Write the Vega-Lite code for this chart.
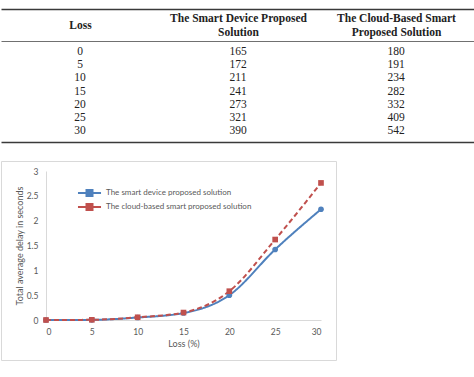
{
  "$schema": "https://vega.github.io/schema/vega-lite/v6.json",
  "padding": {"left": 0, "top": 9, "right": 0, "bottom": 0},
  "spacing": 18,
  "background": "white",
  "config": {"view": {"stroke": null}},
  "resolve": {"legend": {"color": "independent"}},
  "title": {"text": "Figure 11. The total average delay of", "orient": "bottom", "anchor": "start", "offset": 17, "font": "Liberation Serif", "fontSize": 11, "fontWeight": "bold", "color": "#000000", "baseline": "top"},
  "vconcat": [
    {
      "width": 474,
      "height": 101,
      "data": {"values": [
        {"Loss": 0, "smart": 165, "cloud": 180},
        {"Loss": 5, "smart": 172, "cloud": 191},
        {"Loss": 10, "smart": 211, "cloud": 234},
        {"Loss": 15, "smart": 241, "cloud": 282},
        {"Loss": 20, "smart": 273, "cloud": 332},
        {"Loss": 25, "smart": 321, "cloud": 409},
        {"Loss": 30, "smart": 390, "cloud": 542}
      ]},
      "transform": [
        {"calculate": "datum.Loss", "as": "LossCol"},
        {"fold": ["LossCol", "smart", "cloud"], "as": ["column", "cell"]}
      ],
      "resolve": {"axis": {"x": "independent"}},
      "layer": [
        {
          "mark": {"type": "text", "font": "Liberation Serif", "fontSize": 11.5, "color": "#222222", "baseline": "middle"},
          "encoding": {
            "x": {"field": "column", "type": "nominal", "sort": ["LossCol", "smart", "cloud"],
                  "scale": {"type": "point", "padding": 0.5},
                  "axis": {"orient": "top", "title": null, "ticks": false, "domain": true, "domainColor": "#707070", "domainWidth": 1.2,
                           "labelAngle": 0, "labelBaseline": "middle",
                           "labelPadding": {"condition": {"test": "datum.value === 'LossCol'", "value": 16}, "value": 23},
                           "labelLineHeight": 14, "labelOverlap": false,
                           "labelFont": "Liberation Serif", "labelFontSize": 11.5, "labelFontWeight": "bold", "labelColor": "#222222", "labelLimit": 300,
                           "labelExpr": "datum.value == 'LossCol' ? 'Loss' : datum.value == 'smart' ? ['The Smart Device Proposed', 'Solution'] : ['The Cloud-Based Smart', 'Proposed Solution']"}},
            "y": {"field": "Loss", "type": "ordinal", "sort": "ascending", "scale": {"type": "point", "padding": 0.8}, "axis": null},
            "text": {"field": "cell", "type": "nominal"}
          }
        },
        {
          "mark": {"type": "text", "opacity": 0},
          "encoding": {
            "x": {"field": "column", "type": "nominal", "sort": ["LossCol", "smart", "cloud"],
                  "axis": {"orient": "top", "offset": 32, "title": null, "ticks": false, "labels": false, "domain": true, "domainColor": "#3a3a3a", "domainWidth": 1.6}},
            "y": {"field": "Loss", "type": "ordinal", "sort": "ascending"},
            "text": {"field": "cell", "type": "nominal"}
          }
        },
        {
          "mark": {"type": "text", "opacity": 0},
          "encoding": {
            "x": {"field": "column", "type": "nominal", "sort": ["LossCol", "smart", "cloud"],
                  "axis": {"orient": "bottom", "title": null, "ticks": false, "labels": false, "domain": true, "domainColor": "#3a3a3a", "domainWidth": 1.6}},
            "y": {"field": "Loss", "type": "ordinal", "sort": "ascending"},
            "text": {"field": "cell", "type": "nominal"}
          }
        }
      ]
    },
    {
      "width": 335,
      "height": 199,
      "view": {"stroke": "#d9d9d9", "strokeWidth": 1},
      "data": {"values": [
        {"loss": 0, "delay": 0.0, "series": "The smart device proposed solution"},
        {"loss": 5, "delay": 0.003, "series": "The smart device proposed solution"},
        {"loss": 10, "delay": 0.05, "series": "The smart device proposed solution"},
        {"loss": 15, "delay": 0.14, "series": "The smart device proposed solution"},
        {"loss": 20, "delay": 0.50, "series": "The smart device proposed solution"},
        {"loss": 25, "delay": 1.42, "series": "The smart device proposed solution"},
        {"loss": 30, "delay": 2.23, "series": "The smart device proposed solution"},
        {"loss": 0, "delay": 0.0, "series": "The cloud-based smart proposed solution"},
        {"loss": 5, "delay": 0.004, "series": "The cloud-based smart proposed solution"},
        {"loss": 10, "delay": 0.055, "series": "The cloud-based smart proposed solution"},
        {"loss": 15, "delay": 0.15, "series": "The cloud-based smart proposed solution"},
        {"loss": 20, "delay": 0.58, "series": "The cloud-based smart proposed solution"},
        {"loss": 25, "delay": 1.62, "series": "The cloud-based smart proposed solution"},
        {"loss": 30, "delay": 2.76, "series": "The cloud-based smart proposed solution"}
      ]},
      "layer": [
        {
          "mark": {"type": "line", "interpolate": "monotone", "strokeWidth": 2},
          "encoding": {
            "x": {"field": "loss", "type": "quantitative",
                  "scale": {"domain": [0, 30], "range": [45, 320], "nice": false, "zero": false},
                  "axis": {"orient": "bottom", "offset": -40, "values": [0, 5, 10, 15, 20, 25, 30], "grid": false, "ticks": false,
                           "domainColor": "#d9d9d9", "domainWidth": 1, "labelPadding": 7, "labelOverlap": false,
                           "labelFont": "Lato", "labelFontSize": 8.5, "labelColor": "#595959",
                           "title": "Loss (%)", "titleFont": "Lato", "titleFontSize": 9, "titleFontWeight": "normal", "titleColor": "#595959", "titlePadding": 4}},
            "y": {"field": "delay", "type": "quantitative",
                  "scale": {"domain": [0, 3], "range": [159, 10], "nice": false, "zero": false},
                  "axis": {"orient": "left", "offset": -45, "values": [0, 0.5, 1, 1.5, 2, 2.5, 3], "tickCount": 7, "grid": false, "ticks": false,
                           "labelExpr": "datum.value == 0 ? '0' : datum.value == 0.5 ? '0.5' : datum.value == 1 ? '1' : datum.value == 1.5 ? '1.5' : datum.value == 2 ? '2' : datum.value == 2.5 ? '2.5' : '3'",
                           "domainColor": "#d9d9d9", "domainWidth": 1, "labelPadding": 8, "labelOverlap": false,
                           "labelFont": "Lato", "labelFontSize": 8.5, "labelColor": "#595959",
                           "title": "Total average delay in seconds", "titleFont": "Lato", "titleFontSize": 9, "titleFontWeight": "normal", "titleColor": "#595959", "titlePadding": 2}},
            "color": {"field": "series", "type": "nominal",
                      "scale": {"domain": ["The smart device proposed solution", "The cloud-based smart proposed solution"], "range": ["#4F81BD", "#C0504D"]},
                      "legend": {"orient": "none", "legendX": 81.5, "legendY": 25, "title": null, "padding": 0, "rowPadding": 0,
                                 "symbolSize": 144, "symbolStrokeWidth": 0, "labelOffset": 9.5,
                                 "labelFont": "Lato", "labelFontSize": 8, "labelColor": "#595959", "labelLimit": 400,
                                 "encode": {"symbols": {"update": {
                                   "shape": {"condition": {"test": "datum.value === 'The smart device proposed solution'", "value": "M-1.92,0H1.92M0.5,0A0.5,0.5,0,1,1,-0.5,0A0.5,0.5,0,1,1,0.5,0Z"}, "value": "M-1.92,0H1.92M-0.5,-0.5H0.5V0.5H-0.5Z"},
                                   "fill": {"condition": {"test": "datum.value === 'The smart device proposed solution'", "value": "#4F81BD"}, "value": "#C0504D"},
                                   "stroke": {"condition": {"test": "datum.value === 'The smart device proposed solution'", "value": "#4F81BD"}, "value": "#C0504D"},
                                   "strokeDash": {"value": {"expr": "datum.value === 'The smart device proposed solution' ? [1, 0] : [3, 2]"}},
                                   "strokeWidth": {"value": 2},
                                   "opacity": {"value": 1},
                                   "fillOpacity": {"value": 1}
                                 }}}}},
            "strokeDash": {"field": "series", "type": "nominal",
                           "scale": {"domain": ["The smart device proposed solution", "The cloud-based smart proposed solution"], "range": [[1, 0], [5, 3]]},
                           "legend": null}
          }
        },
        {
          "mark": {"type": "point", "filled": true, "opacity": 1},
          "encoding": {
            "x": {"field": "loss", "type": "quantitative"},
            "y": {"field": "delay", "type": "quantitative"},
            "color": {"field": "series", "type": "nominal"},
            "shape": {"field": "series", "type": "nominal",
                      "scale": {"domain": ["The smart device proposed solution", "The cloud-based smart proposed solution"], "range": ["circle", "square"]},
                      "legend": null},
            "size": {"value": 32}
          }
        }
      ]
    }
  ]
}
